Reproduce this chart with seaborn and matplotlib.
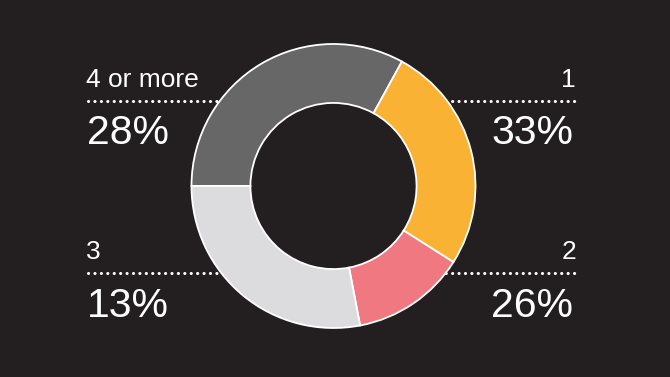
import seaborn as sns
import matplotlib.pyplot as plt

# slices, clockwise from 9 o'clock
slice_values = [33, 26, 13, 28]
slice_colors = ['#676767', '#f9b233', '#f07881', '#dcdcde']

# callouts
left_labels = ['4 or more', '3']
left_pcts = ['28%', '13%']
right_labels = ['1', '2']
right_pcts = ['33%', '26%']

bg = '#231f20'
sns.set_style('dark', {'axes.facecolor': bg, 'figure.facecolor': bg})
plt.rcParams['font.family'] = ['Liberation Sans', 'DejaVu Sans']

fig = plt.figure(figsize=(6.7, 3.77), dpi=100)

# background axes in pixel coords for text and dotted rules
bax = fig.add_axes([0, 0, 1, 1])
bax.set_xlim(0, 670)
bax.set_ylim(377, 0)
bax.axis('off')

rule_y = [101, 273]
for y in rule_y:
    for x0, x1 in [(88, 250), (420, 578)]:
        bax.plot([x0, x1], [y, y], color='white', lw=2.2,
                 linestyle=(0, (0.05, 2.05)), dash_capstyle='round', zorder=1)

label_base = [87, 259]
pct_base = [144, 317]
for i in range(2):
    bax.text(86, label_base[i], left_labels[i], color='white', fontsize=19,
             ha='left', va='baseline')
    bax.text(87, pct_base[i], left_pcts[i], color='white', fontsize=29.5,
             ha='left', va='baseline')
    bax.text(576, label_base[i], right_labels[i], color='white', fontsize=19,
             ha='right', va='baseline')
    bax.text(573, pct_base[i], right_pcts[i], color='white', fontsize=29.5,
             ha='right', va='baseline')

# donut
cx, cy, r = 333.5, 186, 142
side = 2.5 * r
pax = fig.add_axes([(cx - side / 2) / 670, (377 - cy - side / 2) / 377,
                    side / 670, side / 377])
pax.pie(slice_values, colors=slice_colors, startangle=180, counterclock=False,
        radius=1, wedgeprops=dict(width=0.415, edgecolor='white', linewidth=1.3))
pax.set_aspect('equal')
pax.patch.set_alpha(0)
pax.axis('off')

fig.savefig('out.png', dpi=100, facecolor=bg)
